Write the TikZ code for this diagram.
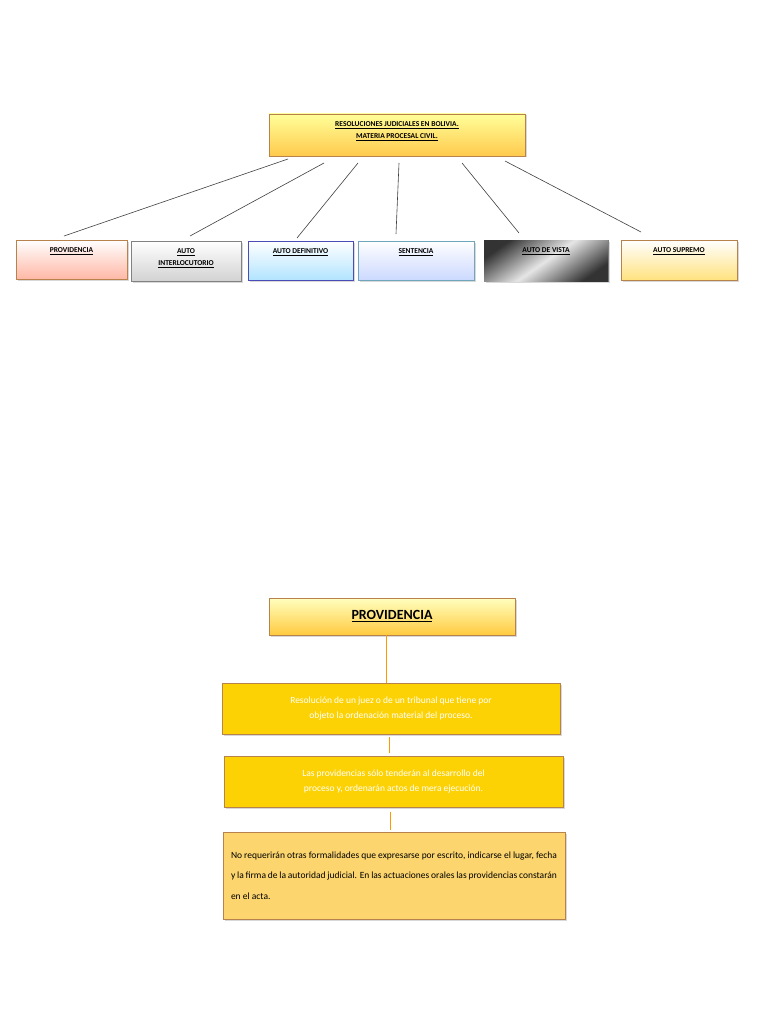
\documentclass[tikz,border=0pt]{standalone}
\usepackage{fontspec}
\setmainfont{Carlito}
\usetikzlibrary{shadows}
\begin{document}
\begin{tikzpicture}[x=1pt,y=-1pt,
 box/.style={draw=#1!60!black!70,line width=0.5pt,inner sep=0pt,drop shadow={shadow xshift=1.5pt,shadow yshift=-1.5pt,fill=gray!60}},
 lbl/.style={font=\bfseries\fontsize{7.5}{12}\selectfont,align=center,anchor=north},
 conn/.style={draw=black!75,line width=0.6pt},
 oconn/.style={draw=orange!80!yellow,line width=0.8pt},
 txt/.style={font=\fontsize{9.5}{15.5}\selectfont,align=center,text=white}]
\useasboundingbox (0,0) rectangle (768,1024);
\fill[white] (0,0) rectangle (768,1024);
% top box
\path[box=orange,top color=yellow!40,bottom color=orange!60!yellow!70] (269,114) rectangle (525,156);
\node[lbl] (top) at (397,118) {\underline{RESOLUCIONES JUDICIALES EN BOLIVIA.}\\\underline{MATERIA PROCESAL CIVIL.}};
% children
\path[box=orange,top color=white,bottom color=orange!40!red!35] (16,240) rectangle (127,279);
\node[lbl] (b1) at (71.5,244) {\underline{PROVIDENCIA}};
\path[box=gray,top color=white,bottom color=gray!35] (131,241) rectangle (241,281);
\node[lbl] (b2) at (186,245) {\underline{AUTO}\\\underline{INTERLOCUTORIO}};
\path[box=blue,top color=white,bottom color=blue!35!cyan!30] (248,241) rectangle (353,280);
\node[lbl] (b3) at (300.5,245) {\underline{AUTO DEFINITIVO}};
\path[box=cyan,top color=white,bottom color=cyan!25!blue!20] (358,241) rectangle (474,280);
\node[lbl] (b4) at (416,245) {\underline{SENTENCIA}};
\shade[left color=black!75,right color=black!75,middle color=white,shading angle=35] (484,240) rectangle (608,281);
\path[box=gray,draw=gray,fill=none] (484,240) rectangle (608,281);
\shade[left color=black!80,right color=black!80,middle color=white!90!black,shading angle=35] (484,240) rectangle (608,281);
\node[lbl] (b5) at (546,244) {\underline{AUTO DE VISTA}};
\path[box=orange,top color=white,bottom color=yellow!55!orange!50] (621,240) rectangle (737,280);
\node[lbl] (b6) at (679,244) {\underline{AUTO SUPREMO}};
% connectors
\coordinate (t1) at (288,159); \coordinate (e1) at (64,236);
\coordinate (t2) at (324,163); \coordinate (e2) at (190,236);
\coordinate (t3) at (358,163); \coordinate (e3) at (297,238);
\coordinate (t4) at (399,163); \coordinate (e4) at (396,234);
\coordinate (t5) at (462,163); \coordinate (e5) at (519,233);
\coordinate (t6) at (505,161); \coordinate (e6) at (641,232);
\foreach \i in {1,...,6} \draw[conn] (t\i) -- (e\i);
% bottom section
\path[box=orange,top color=yellow!25,bottom color=orange!55!yellow!75] (269,598) rectangle (515,635);
\node[font=\bfseries\fontsize{14}{16}\selectfont] (p) at (392,616) {\underline{PROVIDENCIA}};
\path[box=orange,fill=orange!20!yellow!85!red,fill=yellow!70!orange] (222,683) rectangle (560,734);
\node[txt] (r1) at (391,708.5) {Resolución de un juez o de un tribunal que tiene por\\objeto la ordenación material del proceso.};
\path[box=orange,fill=yellow!70!orange] (224,756) rectangle (563,807);
\node[txt] (r2) at (393.5,781.5) {Las providencias sólo tenderán al desarrollo del\\proceso y, ordenarán actos de mera ejecución.};
\path[box=orange,fill=yellow!45!orange!55] (223,832) rectangle (565,919);
\node[font=\fontsize{9.5}{20.5}\selectfont,text=black,align=justify,text width=326pt] (r3) at (394,875.5) {No requerirán otras formalidades que expresarse por escrito, indicarse el lugar, fecha y la firma de la autoridad judicial. En las actuaciones orales las providencias constarán en el acta.};
\coordinate (c1a) at (386,635); \coordinate (c1b) at (386,683);
\coordinate (c2a) at (389,737); \coordinate (c2b) at (389,753);
\coordinate (c3a) at (390,812); \coordinate (c3b) at (390,830);
\draw[oconn] (c1a) -- (c1b); \draw[oconn] (c2a) -- (c2b); \draw[oconn] (c3a) -- (c3b);
\end{tikzpicture}
\end{document}
